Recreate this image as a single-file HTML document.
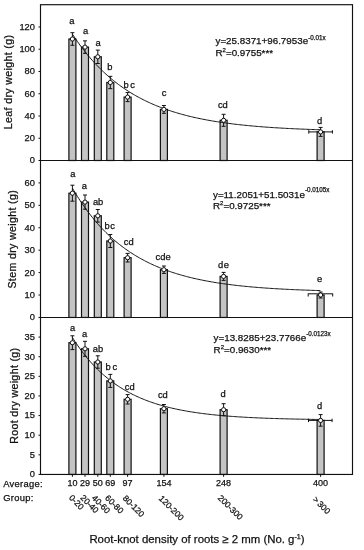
<!DOCTYPE html><html><head><meta charset="utf-8"><style>html,body{margin:0;padding:0;background:#fff;width:364px;height:550px;overflow:hidden}svg{display:block}text{font-family:"Liberation Sans",Arial,sans-serif;fill:#111;stroke:#111;stroke-width:0.25px}</style></head><body>
<svg width="364" height="550" viewBox="0 0 364 550">
<rect x="68.90" y="39.00" width="7.00" height="121.50" fill="#c4c4c4" stroke="#111" stroke-width="1.2"/>
<rect x="81.50" y="47.10" width="7.00" height="113.40" fill="#c4c4c4" stroke="#111" stroke-width="1.2"/>
<rect x="94.30" y="56.80" width="7.00" height="103.70" fill="#c4c4c4" stroke="#111" stroke-width="1.2"/>
<rect x="106.80" y="82.50" width="7.00" height="78.00" fill="#c4c4c4" stroke="#111" stroke-width="1.2"/>
<rect x="124.10" y="97.10" width="7.00" height="63.40" fill="#c4c4c4" stroke="#111" stroke-width="1.2"/>
<rect x="160.40" y="109.40" width="7.00" height="51.10" fill="#c4c4c4" stroke="#111" stroke-width="1.2"/>
<rect x="220.10" y="120.30" width="7.00" height="40.20" fill="#c4c4c4" stroke="#111" stroke-width="1.2"/>
<rect x="317.10" y="131.90" width="7.00" height="28.60" fill="#c4c4c4" stroke="#111" stroke-width="1.2"/>
<polyline fill="none" stroke="#111" stroke-width="1" points="72.53,34.28 73.77,36.16 75.00,38.01 76.24,39.82 77.48,41.59 78.72,43.33 79.96,45.04 81.20,46.71 82.44,48.36 83.68,49.97 84.92,51.55 86.16,53.10 87.40,54.61 88.64,56.10 89.88,57.56 91.12,59.00 92.36,60.40 93.60,61.78 94.84,63.13 96.08,64.46 97.31,65.76 98.55,67.03 99.79,68.28 101.03,69.51 102.27,70.71 103.51,71.89 104.75,73.04 105.99,74.18 107.23,75.29 108.47,76.38 109.71,77.45 110.95,78.50 112.19,79.52 113.43,80.53 114.67,81.52 115.91,82.49 117.15,83.44 118.39,84.38 119.62,85.29 120.86,86.19 122.10,87.07 123.34,87.93 124.58,88.78 125.82,89.61 127.06,90.42 128.30,91.22 129.54,92.00 130.78,92.77 132.02,93.52 133.26,94.26 134.50,94.98 135.74,95.69 136.98,96.39 138.22,97.07 139.46,97.74 140.70,98.40 141.93,99.04 143.17,99.67 144.41,100.29 145.65,100.90 146.89,101.50 148.13,102.08 149.37,102.65 150.61,103.21 151.85,103.77 153.09,104.31 154.33,104.84 155.57,105.36 156.81,105.87 158.05,106.37 159.29,106.86 160.53,107.34 161.77,107.81 163.01,108.27 164.24,108.72 165.48,109.17 166.72,109.60 167.96,110.03 169.20,110.45 170.44,110.86 171.68,111.27 172.92,111.66 174.16,112.05 175.40,112.43 176.64,112.80 177.88,113.17 179.12,113.53 180.36,113.88 181.60,114.22 182.84,114.56 184.08,114.89 185.32,115.22 186.55,115.54 187.79,115.85 189.03,116.16 190.27,116.46 191.51,116.75 192.75,117.04 193.99,117.33 195.23,117.61 196.47,117.88 197.71,118.15 198.95,118.41 200.19,118.67 201.43,118.92 202.67,119.17 203.91,119.41 205.15,119.65 206.39,119.88 207.63,120.11 208.86,120.34 210.10,120.56 211.34,120.77 212.58,120.98 213.82,121.19 215.06,121.40 216.30,121.60 217.54,121.79 218.78,121.98 220.02,122.17 221.26,122.36 222.50,122.54 223.74,122.72 224.98,122.89 226.22,123.06 227.46,123.23 228.70,123.39 229.93,123.56 231.17,123.71 232.41,123.87 233.65,124.02 234.89,124.17 236.13,124.32 237.37,124.46 238.61,124.60 239.85,124.74 241.09,124.87 242.33,125.01 243.57,125.14 244.81,125.26 246.05,125.39 247.29,125.51 248.53,125.63 249.77,125.75 251.01,125.87 252.24,125.98 253.48,126.09 254.72,126.20 255.96,126.31 257.20,126.41 258.44,126.52 259.68,126.62 260.92,126.72 262.16,126.81 263.40,126.91 264.64,127.00 265.88,127.09 267.12,127.18 268.36,127.27 269.60,127.36 270.84,127.44 272.08,127.53 273.32,127.61 274.55,127.69 275.79,127.77 277.03,127.84 278.27,127.92 279.51,127.99 280.75,128.06 281.99,128.14 283.23,128.21 284.47,128.27 285.71,128.34 286.95,128.41 288.19,128.47 289.43,128.53 290.67,128.60 291.91,128.66 293.15,128.72 294.39,128.78 295.63,128.83 296.86,128.89 298.10,128.94 299.34,129.00 300.58,129.05 301.82,129.10 303.06,129.15 304.30,129.20 305.54,129.25 306.78,129.30 308.02,129.35 309.26,129.40 310.50,129.44 311.74,129.49 312.98,129.53 314.22,129.57 315.46,129.61 316.70,129.66 317.94,129.70 319.17,129.74 320.41,129.77"/>
<path d="M72.40 32.70V45.30M70.40 32.70H74.40M70.40 45.30H74.40" stroke="#111" stroke-width="1" fill="none"/>
<circle cx="72.40" cy="39.00" r="2.1" fill="#fff" stroke="#111" stroke-width="1"/>
<path d="M85.00 40.85V53.35M83.00 40.85H87.00M83.00 53.35H87.00" stroke="#111" stroke-width="1" fill="none"/>
<circle cx="85.00" cy="47.10" r="2.1" fill="#fff" stroke="#111" stroke-width="1"/>
<path d="M97.80 50.10V63.50M95.80 50.10H99.80M95.80 63.50H99.80" stroke="#111" stroke-width="1" fill="none"/>
<circle cx="97.80" cy="56.80" r="2.1" fill="#fff" stroke="#111" stroke-width="1"/>
<path d="M110.30 76.35V88.65M108.30 76.35H112.30M108.30 88.65H112.30" stroke="#111" stroke-width="1" fill="none"/>
<circle cx="110.30" cy="82.50" r="2.1" fill="#fff" stroke="#111" stroke-width="1"/>
<path d="M127.60 92.60V101.60M125.60 92.60H129.60M125.60 101.60H129.60" stroke="#111" stroke-width="1" fill="none"/>
<circle cx="127.60" cy="97.10" r="2.1" fill="#fff" stroke="#111" stroke-width="1"/>
<path d="M163.90 105.50V113.30M161.90 105.50H165.90M161.90 113.30H165.90" stroke="#111" stroke-width="1" fill="none"/>
<circle cx="163.90" cy="109.40" r="2.1" fill="#fff" stroke="#111" stroke-width="1"/>
<path d="M223.60 114.30V126.30M221.60 114.30H225.60M221.60 126.30H225.60" stroke="#111" stroke-width="1" fill="none"/>
<circle cx="223.60" cy="120.30" r="2.1" fill="#fff" stroke="#111" stroke-width="1"/>
<path d="M320.60 127.40V136.40M318.60 127.40H322.60M318.60 136.40H322.60" stroke="#111" stroke-width="1" fill="none"/>
<path d="M308.80 131.90H332.40M308.80 130.20V133.60M332.40 130.20V133.60" stroke="#111" stroke-width="1" fill="none"/>
<circle cx="320.60" cy="131.90" r="2.1" fill="#fff" stroke="#111" stroke-width="1"/>
<text x="69.20" y="23.70" font-size="9.4" letter-spacing="0.00">a</text>
<text x="82.90" y="33.80" font-size="9.4" letter-spacing="0.00">a</text>
<text x="95.50" y="45.60" font-size="9.4" letter-spacing="0.00">a</text>
<text x="107.30" y="70.30" font-size="9.4" letter-spacing="0.00">b</text>
<text x="123.40" y="87.80" font-size="9.4" letter-spacing="1.70">bc</text>
<text x="161.70" y="96.40" font-size="9.4" letter-spacing="0.00">c</text>
<text x="217.90" y="107.50" font-size="9.4" letter-spacing="0.00">cd</text>
<text x="316.90" y="124.20" font-size="9.4" letter-spacing="0.00">d</text>
<path d="M38.50 160.50H40.50" stroke="#111" stroke-width="1"/>
<text x="34.90" y="163.40" font-size="9.3" text-anchor="end">0</text>
<path d="M38.50 138.24H40.50" stroke="#111" stroke-width="1"/>
<text x="34.90" y="141.14" font-size="9.3" text-anchor="end">20</text>
<path d="M38.50 115.99H40.50" stroke="#111" stroke-width="1"/>
<text x="34.90" y="118.89" font-size="9.3" text-anchor="end">40</text>
<path d="M38.50 93.73H40.50" stroke="#111" stroke-width="1"/>
<text x="34.90" y="96.63" font-size="9.3" text-anchor="end">60</text>
<path d="M38.50 71.47H40.50" stroke="#111" stroke-width="1"/>
<text x="34.90" y="74.37" font-size="9.3" text-anchor="end">80</text>
<path d="M38.50 49.21H40.50" stroke="#111" stroke-width="1"/>
<text x="34.90" y="52.11" font-size="9.3" text-anchor="end">100</text>
<path d="M38.50 26.96H40.50" stroke="#111" stroke-width="1"/>
<text x="34.90" y="29.86" font-size="9.3" text-anchor="end">120</text>
<text x="215.50" y="43.90" font-size="9.8">y=25.8371+96.7953e<tspan font-size="6.3" dy="-4.3">-0.01x</tspan></text>
<text x="215.50" y="56.30" font-size="9.8">R<tspan font-size="6" dy="-4">2</tspan><tspan dy="4">=0.9755***</tspan></text>
<text transform="translate(12.0 81.95) rotate(-90)" font-size="10.6" letter-spacing="0.36" text-anchor="middle">Leaf dry weight (g)</text>
<rect x="68.90" y="193.20" width="7.00" height="124.25" fill="#c4c4c4" stroke="#111" stroke-width="1.2"/>
<rect x="81.50" y="202.10" width="7.00" height="115.35" fill="#c4c4c4" stroke="#111" stroke-width="1.2"/>
<rect x="94.30" y="215.80" width="7.00" height="101.65" fill="#c4c4c4" stroke="#111" stroke-width="1.2"/>
<rect x="106.80" y="241.00" width="7.00" height="76.45" fill="#c4c4c4" stroke="#111" stroke-width="1.2"/>
<rect x="124.10" y="257.70" width="7.00" height="59.75" fill="#c4c4c4" stroke="#111" stroke-width="1.2"/>
<rect x="160.40" y="269.70" width="7.00" height="47.75" fill="#c4c4c4" stroke="#111" stroke-width="1.2"/>
<rect x="220.10" y="276.40" width="7.00" height="41.05" fill="#c4c4c4" stroke="#111" stroke-width="1.2"/>
<rect x="317.10" y="295.00" width="7.00" height="22.45" fill="#c4c4c4" stroke="#111" stroke-width="1.2"/>
<polyline fill="none" stroke="#111" stroke-width="1" points="72.53,188.36 73.77,190.47 75.00,192.53 76.24,194.55 77.48,196.54 78.72,198.48 79.96,200.38 81.20,202.24 82.44,204.07 83.68,205.86 84.92,207.61 86.16,209.33 87.40,211.01 88.64,212.66 89.88,214.27 91.12,215.85 92.36,217.40 93.60,218.92 94.84,220.41 96.08,221.87 97.31,223.29 98.55,224.69 99.79,226.06 101.03,227.41 102.27,228.72 103.51,230.01 104.75,231.27 105.99,232.51 107.23,233.72 108.47,234.91 109.71,236.08 110.95,237.22 112.19,238.33 113.43,239.43 114.67,240.50 115.91,241.55 117.15,242.58 118.39,243.59 119.62,244.57 120.86,245.54 122.10,246.49 123.34,247.42 124.58,248.33 125.82,249.22 127.06,250.09 128.30,250.95 129.54,251.79 130.78,252.61 132.02,253.42 133.26,254.20 134.50,254.98 135.74,255.73 136.98,256.48 138.22,257.20 139.46,257.91 140.70,258.61 141.93,259.29 143.17,259.96 144.41,260.62 145.65,261.26 146.89,261.89 148.13,262.51 149.37,263.11 150.61,263.71 151.85,264.29 153.09,264.85 154.33,265.41 155.57,265.96 156.81,266.49 158.05,267.01 159.29,267.53 160.53,268.03 161.77,268.52 163.01,269.00 164.24,269.48 165.48,269.94 166.72,270.39 167.96,270.84 169.20,271.27 170.44,271.70 171.68,272.12 172.92,272.53 174.16,272.93 175.40,273.32 176.64,273.71 177.88,274.09 179.12,274.45 180.36,274.82 181.60,275.17 182.84,275.52 184.08,275.86 185.32,276.19 186.55,276.52 187.79,276.84 189.03,277.15 190.27,277.46 191.51,277.76 192.75,278.06 193.99,278.35 195.23,278.63 196.47,278.91 197.71,279.18 198.95,279.45 200.19,279.71 201.43,279.96 202.67,280.21 203.91,280.46 205.15,280.70 206.39,280.94 207.63,281.17 208.86,281.39 210.10,281.61 211.34,281.83 212.58,282.04 213.82,282.25 215.06,282.46 216.30,282.66 217.54,282.85 218.78,283.05 220.02,283.23 221.26,283.42 222.50,283.60 223.74,283.77 224.98,283.95 226.22,284.12 227.46,284.28 228.70,284.45 229.93,284.61 231.17,284.76 232.41,284.92 233.65,285.07 234.89,285.21 236.13,285.36 237.37,285.50 238.61,285.64 239.85,285.77 241.09,285.91 242.33,286.04 243.57,286.16 244.81,286.29 246.05,286.41 247.29,286.53 248.53,286.65 249.77,286.76 251.01,286.88 252.24,286.99 253.48,287.09 254.72,287.20 255.96,287.30 257.20,287.41 258.44,287.51 259.68,287.60 260.92,287.70 262.16,287.79 263.40,287.89 264.64,287.98 265.88,288.06 267.12,288.15 268.36,288.23 269.60,288.32 270.84,288.40 272.08,288.48 273.32,288.56 274.55,288.63 275.79,288.71 277.03,288.78 278.27,288.85 279.51,288.92 280.75,288.99 281.99,289.06 283.23,289.13 284.47,289.19 285.71,289.25 286.95,289.32 288.19,289.38 289.43,289.44 290.67,289.50 291.91,289.55 293.15,289.61 294.39,289.66 295.63,289.72 296.86,289.77 298.10,289.82 299.34,289.87 300.58,289.92 301.82,289.97 303.06,290.02 304.30,290.07 305.54,290.11 306.78,290.16 308.02,290.20 309.26,290.24 310.50,290.29 311.74,290.33 312.98,290.37 314.22,290.41 315.46,290.45 316.70,290.49 317.94,290.52 319.17,290.56 320.41,290.59"/>
<path d="M72.40 185.20V201.20M70.40 185.20H74.40M70.40 201.20H74.40" stroke="#111" stroke-width="1" fill="none"/>
<circle cx="72.40" cy="193.20" r="2.1" fill="#fff" stroke="#111" stroke-width="1"/>
<path d="M85.00 195.00V209.20M83.00 195.00H87.00M83.00 209.20H87.00" stroke="#111" stroke-width="1" fill="none"/>
<circle cx="85.00" cy="202.10" r="2.1" fill="#fff" stroke="#111" stroke-width="1"/>
<path d="M97.80 209.50V222.10M95.80 209.50H99.80M95.80 222.10H99.80" stroke="#111" stroke-width="1" fill="none"/>
<circle cx="97.80" cy="215.80" r="2.1" fill="#fff" stroke="#111" stroke-width="1"/>
<path d="M110.30 234.50V247.50M108.30 234.50H112.30M108.30 247.50H112.30" stroke="#111" stroke-width="1" fill="none"/>
<circle cx="110.30" cy="241.00" r="2.1" fill="#fff" stroke="#111" stroke-width="1"/>
<path d="M127.60 253.40V262.00M125.60 253.40H129.60M125.60 262.00H129.60" stroke="#111" stroke-width="1" fill="none"/>
<circle cx="127.60" cy="257.70" r="2.1" fill="#fff" stroke="#111" stroke-width="1"/>
<path d="M163.90 266.00V273.40M161.90 266.00H165.90M161.90 273.40H165.90" stroke="#111" stroke-width="1" fill="none"/>
<circle cx="163.90" cy="269.70" r="2.1" fill="#fff" stroke="#111" stroke-width="1"/>
<path d="M223.60 272.40V280.40M221.60 272.40H225.60M221.60 280.40H225.60" stroke="#111" stroke-width="1" fill="none"/>
<circle cx="223.60" cy="276.40" r="2.1" fill="#fff" stroke="#111" stroke-width="1"/>
<path d="M320.60 292.00V298.00M318.60 292.00H322.60M318.60 298.00H322.60" stroke="#111" stroke-width="1" fill="none"/>
<path d="M308.20 293.80H332.70M308.20 293.50V296.50M332.70 293.50V296.50" stroke="#111" stroke-width="1" fill="none"/>
<circle cx="320.60" cy="295.00" r="2.1" fill="#fff" stroke="#111" stroke-width="1"/>
<text x="70.30" y="177.40" font-size="9.4" letter-spacing="0.00">a</text>
<text x="81.80" y="189.00" font-size="9.4" letter-spacing="0.00">a</text>
<text x="92.90" y="204.50" font-size="9.4" letter-spacing="0.00">ab</text>
<text x="104.50" y="229.30" font-size="9.4" letter-spacing="0.50">bc</text>
<text x="123.70" y="245.30" font-size="9.4" letter-spacing="0.00">cd</text>
<text x="155.50" y="259.70" font-size="9.4" letter-spacing="0.00">cde</text>
<text x="217.90" y="267.50" font-size="9.4" letter-spacing="0.60">de</text>
<text x="317.10" y="282.00" font-size="9.4" letter-spacing="0.00">e</text>
<path d="M38.50 317.45H40.50" stroke="#111" stroke-width="1"/>
<text x="34.90" y="320.35" font-size="9.3" text-anchor="end">0</text>
<path d="M38.50 295.03H40.50" stroke="#111" stroke-width="1"/>
<text x="34.90" y="297.93" font-size="9.3" text-anchor="end">10</text>
<path d="M38.50 272.61H40.50" stroke="#111" stroke-width="1"/>
<text x="34.90" y="275.51" font-size="9.3" text-anchor="end">20</text>
<path d="M38.50 250.19H40.50" stroke="#111" stroke-width="1"/>
<text x="34.90" y="253.09" font-size="9.3" text-anchor="end">30</text>
<path d="M38.50 227.76H40.50" stroke="#111" stroke-width="1"/>
<text x="34.90" y="230.66" font-size="9.3" text-anchor="end">40</text>
<path d="M38.50 205.34H40.50" stroke="#111" stroke-width="1"/>
<text x="34.90" y="208.24" font-size="9.3" text-anchor="end">50</text>
<path d="M38.50 182.92H40.50" stroke="#111" stroke-width="1"/>
<text x="34.90" y="185.82" font-size="9.3" text-anchor="end">60</text>
<text x="213.00" y="197.60" font-size="9.8">y=11.2051+51.5031e<tspan font-size="6.3" dy="-5.7">-0.0105x</tspan></text>
<text x="213.00" y="208.80" font-size="9.8">R<tspan font-size="6" dy="-4">2</tspan><tspan dy="4">=0.9725***</tspan></text>
<text transform="translate(15.5 239.25) rotate(-90)" font-size="10.6" letter-spacing="0.36" text-anchor="middle">Stem dry weight (g)</text>
<rect x="68.90" y="342.70" width="7.00" height="131.75" fill="#c4c4c4" stroke="#111" stroke-width="1.2"/>
<rect x="81.50" y="348.80" width="7.00" height="125.65" fill="#c4c4c4" stroke="#111" stroke-width="1.2"/>
<rect x="94.30" y="362.00" width="7.00" height="112.45" fill="#c4c4c4" stroke="#111" stroke-width="1.2"/>
<rect x="106.80" y="380.90" width="7.00" height="93.55" fill="#c4c4c4" stroke="#111" stroke-width="1.2"/>
<rect x="124.10" y="399.30" width="7.00" height="75.15" fill="#c4c4c4" stroke="#111" stroke-width="1.2"/>
<rect x="160.40" y="408.70" width="7.00" height="65.75" fill="#c4c4c4" stroke="#111" stroke-width="1.2"/>
<rect x="220.10" y="409.70" width="7.00" height="64.75" fill="#c4c4c4" stroke="#111" stroke-width="1.2"/>
<rect x="317.10" y="420.40" width="7.00" height="54.05" fill="#c4c4c4" stroke="#111" stroke-width="1.2"/>
<polyline fill="none" stroke="#111" stroke-width="1" points="72.53,337.65 73.77,339.61 75.00,341.52 76.24,343.38 77.48,345.20 78.72,346.98 79.96,348.71 81.20,350.41 82.44,352.06 83.68,353.67 84.92,355.25 86.16,356.79 87.40,358.29 88.64,359.76 89.88,361.19 91.12,362.59 92.36,363.95 93.60,365.28 94.84,366.58 96.08,367.85 97.31,369.09 98.55,370.30 99.79,371.49 101.03,372.64 102.27,373.77 103.51,374.87 104.75,375.94 105.99,376.99 107.23,378.01 108.47,379.01 109.71,379.99 110.95,380.94 112.19,381.87 113.43,382.78 114.67,383.66 115.91,384.53 117.15,385.37 118.39,386.20 119.62,387.00 120.86,387.79 122.10,388.56 123.34,389.31 124.58,390.04 125.82,390.75 127.06,391.45 128.30,392.13 129.54,392.79 130.78,393.44 132.02,394.08 133.26,394.70 134.50,395.30 135.74,395.89 136.98,396.46 138.22,397.03 139.46,397.57 140.70,398.11 141.93,398.63 143.17,399.14 144.41,399.64 145.65,400.13 146.89,400.60 148.13,401.07 149.37,401.52 150.61,401.96 151.85,402.39 153.09,402.82 154.33,403.23 155.57,403.63 156.81,404.02 158.05,404.40 159.29,404.78 160.53,405.14 161.77,405.50 163.01,405.85 164.24,406.19 165.48,406.52 166.72,406.84 167.96,407.16 169.20,407.47 170.44,407.77 171.68,408.06 172.92,408.35 174.16,408.63 175.40,408.90 176.64,409.17 177.88,409.43 179.12,409.68 180.36,409.93 181.60,410.18 182.84,410.41 184.08,410.64 185.32,410.87 186.55,411.09 187.79,411.31 189.03,411.52 190.27,411.72 191.51,411.92 192.75,412.12 193.99,412.31 195.23,412.49 196.47,412.68 197.71,412.85 198.95,413.03 200.19,413.20 201.43,413.36 202.67,413.52 203.91,413.68 205.15,413.83 206.39,413.98 207.63,414.13 208.86,414.27 210.10,414.41 211.34,414.55 212.58,414.68 213.82,414.81 215.06,414.94 216.30,415.07 217.54,415.19 218.78,415.30 220.02,415.42 221.26,415.53 222.50,415.64 223.74,415.75 224.98,415.85 226.22,415.96 227.46,416.06 228.70,416.15 229.93,416.25 231.17,416.34 232.41,416.43 233.65,416.52 234.89,416.61 236.13,416.69 237.37,416.78 238.61,416.86 239.85,416.93 241.09,417.01 242.33,417.09 243.57,417.16 244.81,417.23 246.05,417.30 247.29,417.37 248.53,417.44 249.77,417.50 251.01,417.56 252.24,417.63 253.48,417.69 254.72,417.74 255.96,417.80 257.20,417.86 258.44,417.91 259.68,417.97 260.92,418.02 262.16,418.07 263.40,418.12 264.64,418.17 265.88,418.22 267.12,418.26 268.36,418.31 269.60,418.35 270.84,418.40 272.08,418.44 273.32,418.48 274.55,418.52 275.79,418.56 277.03,418.60 278.27,418.63 279.51,418.67 280.75,418.71 281.99,418.74 283.23,418.77 284.47,418.81 285.71,418.84 286.95,418.87 288.19,418.90 289.43,418.93 290.67,418.96 291.91,418.99 293.15,419.02 294.39,419.05 295.63,419.07 296.86,419.10 298.10,419.12 299.34,419.15 300.58,419.17 301.82,419.20 303.06,419.22 304.30,419.24 305.54,419.26 306.78,419.29 308.02,419.31 309.26,419.33 310.50,419.35 311.74,419.37 312.98,419.39 314.22,419.41 315.46,419.42 316.70,419.44 317.94,419.46 319.17,419.48 320.41,419.49"/>
<path d="M72.40 335.80V349.60M70.40 335.80H74.40M70.40 349.60H74.40" stroke="#111" stroke-width="1" fill="none"/>
<circle cx="72.40" cy="342.70" r="2.1" fill="#fff" stroke="#111" stroke-width="1"/>
<path d="M85.00 341.30V356.30M83.00 341.30H87.00M83.00 356.30H87.00" stroke="#111" stroke-width="1" fill="none"/>
<circle cx="85.00" cy="348.80" r="2.1" fill="#fff" stroke="#111" stroke-width="1"/>
<path d="M97.80 355.80V368.20M95.80 355.80H99.80M95.80 368.20H99.80" stroke="#111" stroke-width="1" fill="none"/>
<circle cx="97.80" cy="362.00" r="2.1" fill="#fff" stroke="#111" stroke-width="1"/>
<path d="M110.30 374.40V387.40M108.30 374.40H112.30M108.30 387.40H112.30" stroke="#111" stroke-width="1" fill="none"/>
<circle cx="110.30" cy="380.90" r="2.1" fill="#fff" stroke="#111" stroke-width="1"/>
<path d="M127.60 394.60V404.00M125.60 394.60H129.60M125.60 404.00H129.60" stroke="#111" stroke-width="1" fill="none"/>
<circle cx="127.60" cy="399.30" r="2.1" fill="#fff" stroke="#111" stroke-width="1"/>
<path d="M163.90 404.50V412.90M161.90 404.50H165.90M161.90 412.90H165.90" stroke="#111" stroke-width="1" fill="none"/>
<circle cx="163.90" cy="408.70" r="2.1" fill="#fff" stroke="#111" stroke-width="1"/>
<path d="M223.60 403.70V415.70M221.60 403.70H225.60M221.60 415.70H225.60" stroke="#111" stroke-width="1" fill="none"/>
<circle cx="223.60" cy="409.70" r="2.1" fill="#fff" stroke="#111" stroke-width="1"/>
<path d="M320.60 414.60V426.20M318.60 414.60H322.60M318.60 426.20H322.60" stroke="#111" stroke-width="1" fill="none"/>
<path d="M308.50 420.40H332.10M308.50 418.70V422.10M332.10 418.70V422.10" stroke="#111" stroke-width="1" fill="none"/>
<circle cx="320.60" cy="420.40" r="2.1" fill="#fff" stroke="#111" stroke-width="1"/>
<text x="69.90" y="330.60" font-size="9.4" letter-spacing="0.00">a</text>
<text x="82.00" y="336.70" font-size="9.4" letter-spacing="0.00">a</text>
<text x="92.80" y="351.50" font-size="9.4" letter-spacing="0.00">ab</text>
<text x="105.50" y="369.60" font-size="9.4" letter-spacing="1.80">bc</text>
<text x="124.70" y="390.00" font-size="9.4" letter-spacing="0.00">cd</text>
<text x="157.90" y="398.20" font-size="9.4" letter-spacing="0.00">cd</text>
<text x="220.60" y="397.30" font-size="9.4" letter-spacing="0.00">d</text>
<text x="317.00" y="409.30" font-size="9.4" letter-spacing="0.00">d</text>
<path d="M38.50 474.45H40.50" stroke="#111" stroke-width="1"/>
<text x="34.90" y="477.35" font-size="9.3" text-anchor="end">0</text>
<path d="M38.50 454.82H40.50" stroke="#111" stroke-width="1"/>
<text x="34.90" y="457.72" font-size="9.3" text-anchor="end">5</text>
<path d="M38.50 435.20H40.50" stroke="#111" stroke-width="1"/>
<text x="34.90" y="438.10" font-size="9.3" text-anchor="end">10</text>
<path d="M38.50 415.57H40.50" stroke="#111" stroke-width="1"/>
<text x="34.90" y="418.47" font-size="9.3" text-anchor="end">15</text>
<path d="M38.50 395.95H40.50" stroke="#111" stroke-width="1"/>
<text x="34.90" y="398.85" font-size="9.3" text-anchor="end">20</text>
<path d="M38.50 376.32H40.50" stroke="#111" stroke-width="1"/>
<text x="34.90" y="379.22" font-size="9.3" text-anchor="end">25</text>
<path d="M38.50 356.70H40.50" stroke="#111" stroke-width="1"/>
<text x="34.90" y="359.60" font-size="9.3" text-anchor="end">30</text>
<path d="M38.50 337.07H40.50" stroke="#111" stroke-width="1"/>
<text x="34.90" y="339.97" font-size="9.3" text-anchor="end">35</text>
<text x="213.60" y="341.40" font-size="9.8">y=13.8285+23.7766e<tspan font-size="6.3" dy="-5.0">-0.0123x</tspan></text>
<text x="213.60" y="353.00" font-size="9.8">R<tspan font-size="6" dy="-4">2</tspan><tspan dy="4">=0.9630***</tspan></text>
<text transform="translate(17.6 395.65) rotate(-90)" font-size="10.6" letter-spacing="0.36" text-anchor="middle">Root dry weight (g)</text>
<rect x="40.5" y="4.7" width="312.0" height="469.75" fill="none" stroke="#111" stroke-width="1.15"/>
<path d="M40.5 160.5H352.5" stroke="#111" stroke-width="1.15"/>
<path d="M40.5 317.45H352.5" stroke="#111" stroke-width="1.15"/>
<path d="M72.40 474.5V476.8" stroke="#111" stroke-width="1"/>
<path d="M85.00 474.5V476.8" stroke="#111" stroke-width="1"/>
<path d="M97.80 474.5V476.8" stroke="#111" stroke-width="1"/>
<path d="M110.30 474.5V476.8" stroke="#111" stroke-width="1"/>
<path d="M127.60 474.5V476.8" stroke="#111" stroke-width="1"/>
<path d="M163.90 474.5V476.8" stroke="#111" stroke-width="1"/>
<path d="M223.60 474.5V476.8" stroke="#111" stroke-width="1"/>
<path d="M320.60 474.5V476.8" stroke="#111" stroke-width="1"/>
<text x="3.2" y="486.8" font-size="9.4" letter-spacing="0.3">Average:</text>
<text x="72.40" y="485.6" font-size="9" text-anchor="middle">10</text>
<text x="85.00" y="485.6" font-size="9" text-anchor="middle">29</text>
<text x="97.80" y="485.6" font-size="9" text-anchor="middle">50</text>
<text x="110.30" y="485.6" font-size="9" text-anchor="middle">69</text>
<text x="127.60" y="485.6" font-size="9" text-anchor="middle">97</text>
<text x="163.90" y="485.6" font-size="9" text-anchor="middle">154</text>
<text x="223.60" y="485.6" font-size="9" text-anchor="middle">248</text>
<text x="320.60" y="485.6" font-size="9" text-anchor="middle">400</text>
<text x="3.2" y="500.9" font-size="9.4" letter-spacing="0.3">Group:</text>
<text transform="translate(68.40 498.20) rotate(45)" font-size="8.5">0-20</text>
<text transform="translate(79.80 498.30) rotate(45)" font-size="8.5">20-40</text>
<text transform="translate(91.30 498.60) rotate(45)" font-size="8.5">40-60</text>
<text transform="translate(104.60 498.60) rotate(45)" font-size="8.5">60-80</text>
<text transform="translate(122.20 498.80) rotate(45)" font-size="8.5">80-120</text>
<text transform="translate(158.30 499.00) rotate(45)" font-size="8.5">120-200</text>
<text transform="translate(217.30 498.40) rotate(45)" font-size="8.5">200-300</text>
<text transform="translate(312.30 500.00) rotate(45)" font-size="8.5" word-spacing="-1">&gt; 300</text>
<text x="89.4" y="542.5" font-size="11.4">Root-knot density of roots &#8805; 2 mm (No. g<tspan font-size="7" dy="-4">-1</tspan><tspan dy="4">)</tspan></text>
</svg></body></html>
